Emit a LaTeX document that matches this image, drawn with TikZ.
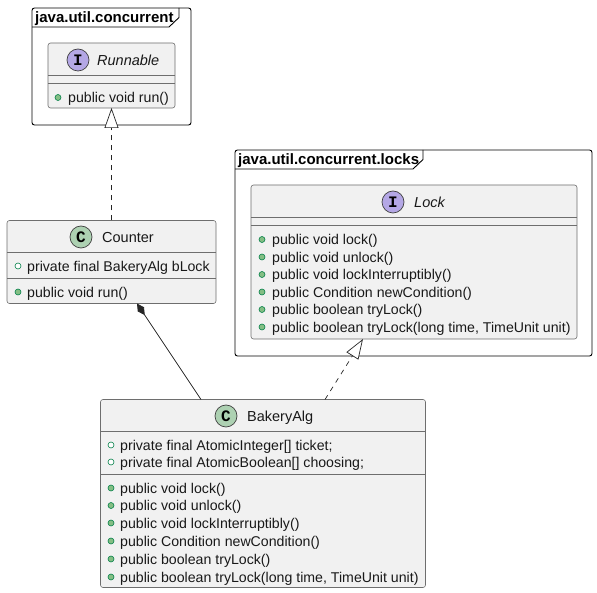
\documentclass[tikz,border=0pt]{standalone}
\usepackage{fontspec}
\setmainfont{Liberation Sans}
\newfontfamily\spotfont{Liberation Mono}
\usetikzlibrary{arrows.meta}
\definecolor{boxfill}{HTML}{F1F1F1}
\definecolor{boxline}{HTML}{6E6E6E}
\definecolor{visline}{HTML}{038048}
\definecolor{visfill}{HTML}{84BE84}
\definecolor{classspot}{HTML}{ADD1B2}
\definecolor{ifacespot}{HTML}{B4A7E5}
\tikzset{
  x=1pt,y=-1pt,
  classbox/.style={draw=boxline,fill=boxfill,line width=.6pt,rounded corners=2.5pt,anchor=north west,inner sep=0pt,outer sep=0pt},
  pkgframe/.style={draw=black,fill=white,line width=.9pt,rounded corners=2.5pt,anchor=north west,inner sep=0pt,outer sep=0pt},
  pkgtab/.style={draw=black,line width=.9pt},
  pkgtitle/.style={anchor=base west,inner sep=0pt,font=\fontsize{15}{16}\selectfont\bfseries},
  divider/.style={draw=boxline,line width=.6pt},
  member/.style={anchor=base west,inner sep=0pt,font=\fontsize{14.15}{16}\selectfont,text=black!90},
  title/.style={anchor=base west,inner sep=0pt,font=\fontsize{14.5}{16}\selectfont,text=black!90},
  ititle/.style={title,font=\fontsize{14.5}{16}\selectfont\itshape},
  spot/.style={circle,draw=black!75,line width=.7pt,minimum size=22pt,inner sep=0pt,font=\spotfont\fontsize{16}{16}\selectfont\bfseries},
  pubmark/.style={circle,draw=visline,fill=visfill,line width=.6pt,minimum size=6pt,inner sep=0pt},
  privmark/.style={circle,draw=visline,fill=white,line width=.6pt,minimum size=6pt,inner sep=0pt},
  realize/.style={draw=black!85,line width=.7pt,dash pattern=on 5pt off 5pt,
    -{Triangle[length=20pt,width=14pt,line width=.7pt,fill=white]}},
  compose/.style={draw=black!85,line width=.8pt,-{Diamond[length=14pt,width=7.5pt,fill=black!85]}},
}
\newcommand{\vrow}[6]{% style, id, mark x, text x, centre y, text
  \node[#1] (#2m) at (#3,#5) {};
  \node[member] (#2t) at (#4,#5+5.2) {#6};
}
\begin{document}
\begin{tikzpicture}
\useasboundingbox (0,0) rectangle (597,593);
% packages
\node[pkgframe,minimum width=159pt,minimum height=117pt] (pkgA) at (32,8) {};
\draw[pkgtab] (pkgA.north west) ++(0,19) -- ++(137,0) -- ++(10,-9.5) -- ++(0,-9.5);
\node[pkgtitle] (pkgAt) at (35,22.5) {java.util.concurrent};
\node[pkgframe,minimum width=357pt,minimum height=206pt] (pkgB) at (235,150) {};
\draw[pkgtab] (pkgB.north west) ++(0,19) -- ++(178,0) -- ++(10,-9.5) -- ++(0,-9.5);
\node[pkgtitle] (pkgBt) at (238,164.5) {java.util.concurrent.locks};
% Runnable
\node[classbox,minimum width=127pt,minimum height=65pt] (runnable) at (48,43) {};
\draw[divider] (48,75) -- (175,75) (48,83) -- (175,83);
\node[spot,fill=ifacespot] (runnableS) at (78,60) {I};
\node[ititle] (runnableT) at (97,65.5) {Runnable};
\vrow{pubmark}{ra}{58}{68}{97.5}{public void run()}
% Lock
\node[classbox,minimum width=326pt,minimum height=154pt] (lock) at (251,185) {};
\draw[divider] (251,217) -- (577,217) (251,225) -- (577,225);
\node[spot,fill=ifacespot] (lockS) at (393,202) {I};
\node[ititle] (lockT) at (414,207.5) {Lock};
\vrow{pubmark}{la}{262}{272}{239.5}{public void lock()}
\vrow{pubmark}{lb}{262}{272}{257}{public void unlock()}
\vrow{pubmark}{lc}{262}{272}{274.5}{public void lockInterruptibly()}
\vrow{pubmark}{ld}{262}{272}{292}{public Condition newCondition()}
\vrow{pubmark}{le}{262}{272}{309.5}{public boolean tryLock()}
\vrow{pubmark}{lf}{262}{272}{327}{public boolean tryLock(long time, TimeUnit unit)}
% Counter
\node[classbox,minimum width=209pt,minimum height=83pt] (counter) at (7,220.5) {};
\draw[divider] (7,252.5) -- (216,252.5) (7,278.5) -- (216,278.5);
\node[spot,fill=classspot] (counterS) at (81,237) {C};
\node[title] (counterT) at (102,242.5) {Counter};
\vrow{privmark}{ca}{18}{27}{266}{private final BakeryAlg bLock}
\vrow{pubmark}{cb}{18}{27}{292}{public void run()}
% BakeryAlg
\node[classbox,minimum width=325pt,minimum height=188pt] (bakery) at (100.5,399.5) {};
\draw[divider] (100.5,431.5) -- (425.5,431.5) (100.5,474.5) -- (425.5,474.5);
\node[spot,fill=classspot] (bakeryS) at (226,416) {C};
\node[title] (bakeryT) at (247,421.5) {BakeryAlg};
\vrow{privmark}{ba}{111}{120}{445}{private final AtomicInteger[] ticket;}
\vrow{privmark}{bb}{111}{120}{462}{private final AtomicBoolean[] choosing;}
\vrow{pubmark}{bc}{111}{120}{488}{public void lock()}
\vrow{pubmark}{bd}{111}{120}{505.5}{public void unlock()}
\vrow{pubmark}{be}{111}{120}{523}{public void lockInterruptibly()}
\vrow{pubmark}{bf}{111}{120}{541}{public Condition newCondition()}
\vrow{pubmark}{bg}{111}{120}{559}{public boolean tryLock()}
\vrow{pubmark}{bh}{111}{120}{577}{public boolean tryLock(long time, TimeUnit unit)}
% connectors
\draw[realize] (counter.north) -- (runnable.south);
\draw[compose] ([xshift=-62pt]bakery.north) -- ([xshift=25.5pt]counter.south);
\draw[realize] ([xshift=62pt]bakery.north) -- ([xshift=-51pt]lock.south);
\end{tikzpicture}
\end{document}
